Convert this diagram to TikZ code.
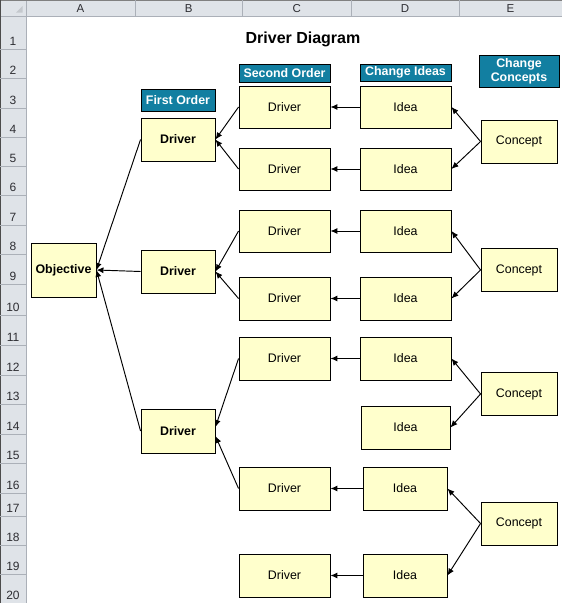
\documentclass[tikz,border=0pt]{standalone}
\usepackage{fontspec}
\setmainfont{Liberation Sans}
\usetikzlibrary{arrows.meta}

\definecolor{cellfill}{RGB}{255,255,204}
\definecolor{headteal}{RGB}{18,127,161}
\definecolor{gridhead}{RGB}{223,227,232}
\definecolor{gridline}{RGB}{171,176,184}
\definecolor{gridtext}{RGB}{45,45,50}

\begin{document}
\begin{tikzpicture}[x=1pt, y=-1pt,
  every node/.style={font=\fontsize{12.4}{14}\selectfont},
  box/.style={draw, fill=cellfill, line width=0.9pt, inner sep=0pt},
  second/.style={box, minimum width=91pt, minimum height=42pt},
  first/.style={box, minimum width=74pt, minimum height=43pt, font=\fontsize{12.4}{14}\selectfont\bfseries},
  concept/.style={box, minimum width=76pt, minimum height=43pt},
  head/.style={draw, fill=headteal, text=white, line width=0.9pt, inner sep=0pt, font=\fontsize{12.4}{14}\selectfont\bfseries},
  arr/.style={-{Latex[length=7pt,width=6pt]}, line width=0.95pt}]
\useasboundingbox (0,0) rectangle (562,603);
% sheet headers
\fill[gridhead] (0,0) rectangle (562,16);
\fill[gridhead] (0,16) rectangle (26,603);
\draw[gridline] (0,16) -- (562,16);
\draw[gridline] (26,0) -- (26,603);
\draw[gray, line width=1.2pt] (0,0.6) -- (562,0.6);
\draw[gray!60!black, line width=1.2pt] (0.6,0) -- (0.6,603);
\fill[gridline!70] (16,12.5) -- (22.5,12.5) -- (22.5,6) -- cycle;
\foreach \x in {135,242.5,351,459}
  \draw[gridline] (\x,0) -- (\x,16);
\foreach \l/\x in {A/80.5,B/188.75,C/296.75,D/405,E/510.5}
  \node[text=gridtext, anchor=base, font=\fontsize{11.5}{13}\selectfont] at (\x,12.7){\l};
\foreach \n/\b in {1/49,2/78.5,3/108,4/137,5/166,6/195.5,7/225,8/254.5,9/284,10/315.5,11/345.5,12/375,13/404.5,14/434,15/463.5,16/493,17/516,18/545,19/574,20/603}{
  \draw[gridline] (0,\b) -- (26,\b);
  \node[text=gridtext, anchor=base, font=\fontsize{12}{14}\selectfont] at (13,\b-4){\n};
}
% titles
\node[anchor=base, font=\fontsize{16}{19}\selectfont\bfseries](title) at (303,43.5){Driver Diagram};
\node[head, minimum width=74pt, minimum height=22pt](h1) at (178,100){First Order};
\node[head, minimum width=91pt, minimum height=18pt](h2) at (284.5,73){Second Order};
\node[head, minimum width=91pt, minimum height=17pt](h3) at (405.5,72.5){Change Ideas};
\node[head, minimum width=80pt, minimum height=32pt, align=center](h4) at (519,71){Change\\Concepts};
% boxes
\node[first, minimum width=65pt, minimum height=54pt](obj) at (63.5,270){Objective};
\node[first](f1) at (178,139.5){Driver};
\node[first](f2) at (178,271.5){Driver};
\node[first, minimum height=44pt](f3) at (178,431){Driver};
\node[second](s1) at (284.5,107){Driver};
\node[second](s2) at (284.5,169){Driver};
\node[second](s3) at (284.5,231){Driver};
\node[second, minimum height=43pt](s4) at (284.5,298.5){Driver};
\node[second, minimum height=43pt](s5) at (284.5,358.5){Driver};
\node[second, minimum height=43pt](s6) at (284.5,488.5){Driver};
\node[second, minimum height=43pt](s7) at (284.5,575.5){Driver};
\node[second](i1) at (405.5,107){Idea};
\node[second](i2) at (405.5,169){Idea};
\node[second](i3) at (405.5,231){Idea};
\node[second, minimum height=43pt](i4) at (405.5,298.5){Idea};
\node[second, minimum height=43pt](i5) at (405.5,358.5){Idea};
\node[second, minimum width=89pt, minimum height=43pt](i6) at (405.5,427.5){Idea};
\node[second, minimum width=84pt, minimum height=43pt](i7) at (405,488.5){Idea};
\node[second, minimum width=84pt, minimum height=43pt](i8) at (405,575.5){Idea};
\node[concept](c1) at (519,141.5){Concept};
\node[concept](c2) at (519,270){Concept};
\node[concept](c3) at (519,394){Concept};
\node[concept](c4) at (519,523.5){Concept};
% links
\draw[arr] (i1) -- (s1);
\draw[arr] (i2) -- (s2);
\draw[arr] (i3) -- (s3);
\draw[arr] (i4) -- (s4);
\draw[arr] (i5) -- (s5);
\draw[arr] (i7) -- (s6);
\draw[arr] (i8) -- (s7);
\draw[arr] (c1.west) -- (i1.east);
\draw[arr] (c1.west) -- (i2.east);
\draw[arr] (c2.west) -- (i3.east);
\draw[arr] (c2.west) -- (i4.east);
\draw[arr] (c3.west) -- (i5.east);
\draw[arr] (c3.west) -- (i6.east);
\draw[arr] (c4.west) -- (i7.east);
\draw[arr] (c4.west) -- (i8.east);
\draw[arr] (s1.west) -- (f1.east);
\draw[arr] (s2.west) -- (f1.east);
\draw[arr] (s3.west) -- (f2.east);
\draw[arr] (s4.west) -- (f2.east);
\draw[arr] (s5.west) -- ([yshift=4pt]f3.east);
\draw[arr] (s6.west) -- ([yshift=-5pt]f3.east);
\draw[arr] (f1.west) -- (obj.east);
\draw[arr] (f2.west) -- (obj.east);
\draw[arr] (f3.west) -- (obj.east);
\end{tikzpicture}
\end{document}
